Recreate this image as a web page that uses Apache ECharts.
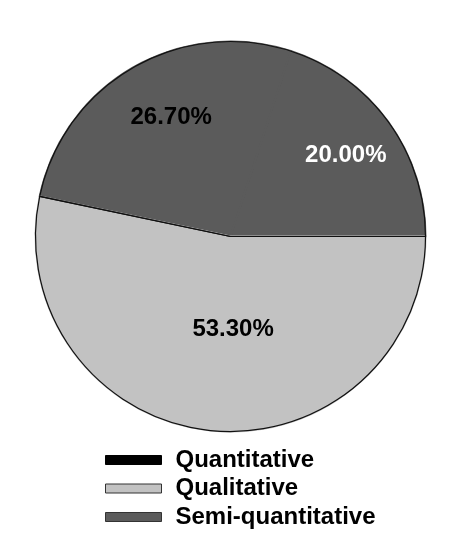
<!DOCTYPE html>
<html><head><meta charset="utf-8">
<script src="https://cdn.jsdelivr.net/npm/echarts@6/dist/echarts.min.js"></script>
<style>html,body{margin:0;padding:0;background:#fff}#c{width:474px;height:542px}</style>
</head><body><div id="c"></div>
<script>
const categories = ['Quantitative', 'Semi-quantitative', 'Qualitative'];
const values = [20.0, 26.7, 53.3];
const labelTexts = ['20.00%', '26.70%', '53.30%'];
const legendOrder = ['Quantitative', 'Qualitative', 'Semi-quantitative'];

const FONT = '"Liberation Sans", Arial, Helvetica, sans-serif';
const DARK = '#5b5b5b', LIGHT = '#c2c2c2';
const sliceColors = {'Quantitative': DARK, 'Semi-quantitative': DARK, 'Qualitative': LIGHT};
const labelColors = {'Quantitative': '#fff', 'Semi-quantitative': '#000', 'Qualitative': '#000'};
const labelOffsets = {'Quantitative': [34, -22], 'Semi-quantitative': [-9, -32], 'Qualitative': [13, -7]};
const legendStyles = {
  'Quantitative': {color: '#000', borderColor: '#000', borderWidth: 1},
  'Qualitative': {color: LIGHT, borderColor: '#333', borderWidth: 1},
  'Semi-quantitative': {color: DARK, borderColor: '#333', borderWidth: 1}
};

const center = [230.5, 236.5];
const R = 195;

const fillData = categories.map((c, i) => ({
  name: c, value: values[i],
  itemStyle: {color: sliceColors[c], borderColor: sliceColors[c], borderWidth: 2},
  label: {formatter: labelTexts[i], color: labelColors[c], offset: labelOffsets[c]}
}));

// outline: grouped by fill colour (dark slices share one outline)
const darkSum = values[categories.indexOf('Quantitative')] + values[categories.indexOf('Semi-quantitative')];
const lightSum = values[categories.indexOf('Qualitative')];

const chart = echarts.init(document.getElementById('c'), null, {renderer: 'canvas'});
chart.setOption({
  animation: false,
  backgroundColor: '#fff',
  legend: {
    orient: 'vertical', left: 100, top: 443,
    itemWidth: 56, itemHeight: 9, itemGap: 4.5,
    icon: 'rect',
    selectedMode: false,
    textStyle: {fontFamily: FONT, fontSize: 24, fontWeight: 'bold', color: '#000', padding: [0, 0, 0, 9]},
    data: legendOrder.map(n => ({name: n, itemStyle: legendStyles[n]}))
  },
  series: [
    {
      type: 'pie', center: center, radius: [0, R],
      startAngle: 0, clockwise: false,
      avoidLabelOverlap: false, silent: true,
      label: {show: true, position: 'inside', fontFamily: FONT, fontSize: 24, fontWeight: 'bold'},
      labelLine: {show: false},
      emphasis: {disabled: true},
      data: fillData
    },
    {
      type: 'pie', center: center, radius: [0, R],
      startAngle: 0, clockwise: false, silent: true, z: 3,
      label: {show: false}, labelLine: {show: false},
      emphasis: {disabled: true},
      itemStyle: {color: 'rgba(0,0,0,0)', borderColor: '#111', borderWidth: 1.2},
      data: [{name: 'outline-dark', value: darkSum}, {name: 'outline-light', value: lightSum}]
    }
  ]
});
</script></body></html>
